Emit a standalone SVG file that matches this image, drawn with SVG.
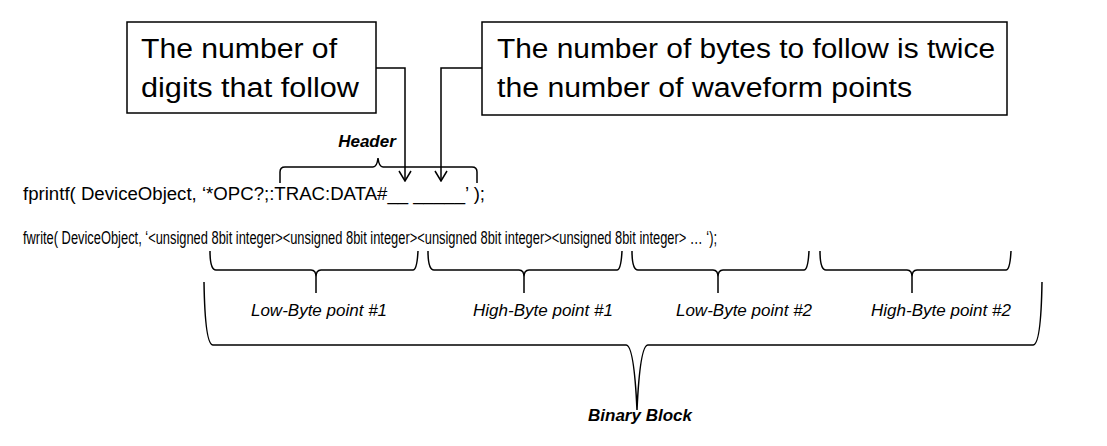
<svg xmlns="http://www.w3.org/2000/svg" width="1107" height="446" viewBox="0 0 1107 446">
<defs>
<style>
text{font-family:"Liberation Sans",Arial,sans-serif;fill:#000}
.big{font-size:27px}
.code{font-size:18px}
.it{font-size:17px;font-style:italic}
.bi{font-size:17px;font-style:italic;font-weight:bold}
.box{fill:#fff;stroke:#000;stroke-width:1.5}
.ln{fill:none;stroke:#000;stroke-width:1.5}
</style>
<marker id="ah" markerWidth="12" markerHeight="14" refX="11" refY="7" orient="auto" markerUnits="userSpaceOnUse" viewBox="0 0 12 14"><path d="M1,1 L11,7 L1,13" fill="none" stroke="#000" stroke-width="1.5"/></marker>
</defs>
<rect width="1107" height="446" fill="#fff"/>
<g id="box1"><rect class="box" x="127" y="22" width="249" height="91"/>
<text class="big" x="141" y="58" textLength="196" lengthAdjust="spacingAndGlyphs">The number of</text>
<text class="big" x="141" y="97" textLength="218" lengthAdjust="spacingAndGlyphs">digits that follow</text></g>
<g id="box2"><rect class="box" x="482" y="22" width="525" height="93"/>
<text class="big" x="497" y="58" textLength="498" lengthAdjust="spacingAndGlyphs">The number of bytes to follow is twice</text>
<text class="big" x="497" y="97" textLength="415" lengthAdjust="spacingAndGlyphs">the number of waveform points</text></g>
<g id="code">
<text class="code" x="23" y="200" textLength="462" lengthAdjust="spacingAndGlyphs">fprintf( DeviceObject, ‘*OPC?;:TRAC:DATA#__ _____’ );</text>
<text class="code" x="23" y="244" textLength="694" lengthAdjust="spacingAndGlyphs">fwrite( DeviceObject, ‘&lt;unsigned 8bit integer&gt;&lt;unsigned 8bit integer&gt;&lt;unsigned 8bit integer&gt;&lt;unsigned 8bit integer&gt; … ‘);</text>
</g>
<g id="labels">
<text class="bi" x="367" y="147" text-anchor="middle">Header</text>
<text class="it" x="319" y="316" text-anchor="middle">Low-Byte point #1</text>
<text class="it" x="543" y="316" text-anchor="middle">High-Byte point #1</text>
<text class="it" x="744" y="316" text-anchor="middle">Low-Byte point #2</text>
<text class="it" x="941" y="316" text-anchor="middle">High-Byte point #2</text>
<text class="bi" x="640" y="421" text-anchor="middle">Binary Block</text>
</g>
<g id="connectors">
<path class="ln" d="M376,68 H405 V181" marker-end="url(#ah)"/>
<path class="ln" d="M482,68 H441 V181" marker-end="url(#ah)"/>
<path class="ln" d="M280,183 V172 Q280,167 285,167 H373 Q377,167 378,158 Q379,167 383,167 H472 Q477,167 477,172 V183"/>
<path class="ln" d="M210,251 Q210,270 216,270 H311 Q316,270 316,277 V293 V277 Q316,270 321,270 H413 Q417,270 418,251"/>
<path class="ln" d="M428,251 Q428,270 434,270 H519 Q524,270 524,277 V293 V277 Q524,270 529,270 H617 Q621,270 622,251"/>
<path class="ln" d="M632,251 Q632,270 638,270 H713 Q718,270 718,277 V293 V277 Q718,270 723,270 H804 Q808,270 809,251"/>
<path class="ln" d="M820,251 Q820,270 826,270 H907 Q912,270 912,277 V293 V277 Q912,270 917,270 H1006 Q1010,270 1011,251"/>
<path class="ln" d="M204,282 Q205,345 213,345 H626 Q634,345 637,410 Q640,345 648,345 H1033 Q1041,345 1042,282"/>
</g>
</svg>
